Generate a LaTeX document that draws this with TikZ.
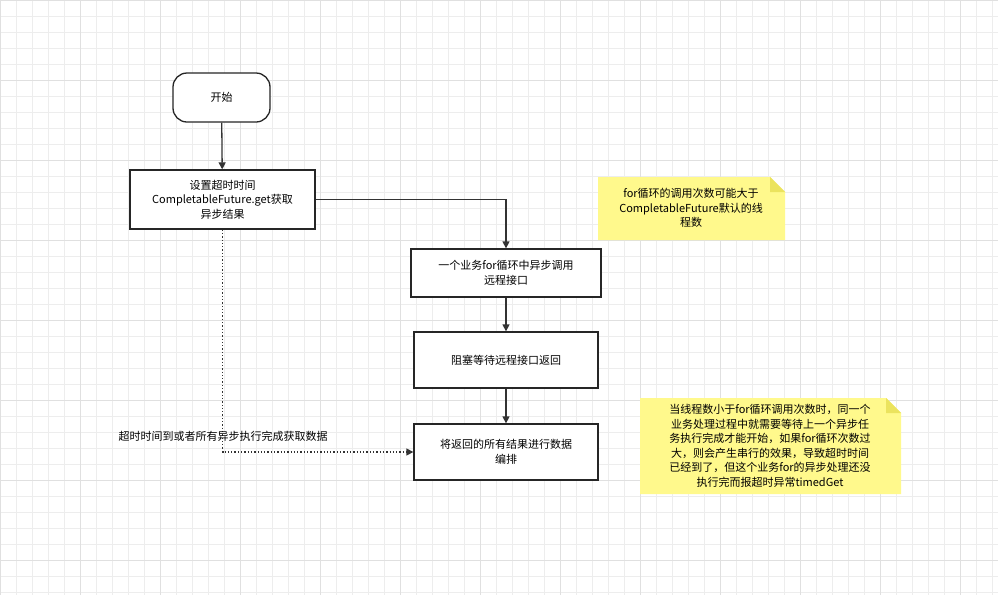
\documentclass[tikz,border=0pt]{standalone}
\usepackage{fontspec}
\setmainfont{Noto Sans CJK SC}
\usetikzlibrary{arrows.meta}
\begin{document}
\begin{tikzpicture}[x=1pt,y=-1pt,
  box/.style={draw=black!85,line width=1.3pt,fill=white,align=center,font=\fontsize{11}{14.5}\selectfont,inner sep=2pt},
  conn/.style={draw=black!80,line width=1.3pt,-{Triangle[length=7pt,width=7pt]}},
  note/.style={fill=yellow!45!white,align=center,font=\fontsize{11}{14.5}\selectfont}]
\useasboundingbox (0,0) rectangle (998,595);
\fill[white] (0,0) rectangle (998,595);
\foreach \i in {0,16,...,992} {\draw[black!7,line width=0.5pt] (\i,0) -- (\i,595);}
\foreach \i in {0,16,...,592} {\draw[black!7,line width=0.5pt] (0,\i) -- (998,\i);}
\foreach \i in {0,80,...,960} {\draw[black!12,line width=0.5pt] (\i,0) -- (\i,595);}
\foreach \i in {0,80,...,560} {\draw[black!12,line width=0.5pt] (0,\i) -- (998,\i);}
\node[box,rounded corners=14pt,minimum width=97pt,minimum height=49pt] (start) at (221.5,97.5) {开始};
\node[box,minimum width=185pt,minimum height=59pt] (b1) at (222.5,199.5) {设置超时时间\\CompletableFuture.get获取\\异步结果};
\node[box,minimum width=190pt,minimum height=48pt] (b2) at (506,273) {一个业务for循环中异步调用\\远程接口};
\node[box,minimum width=184pt,minimum height=56pt] (b3) at (506,360) {阻塞等待远程接口返回};
\node[box,minimum width=184pt,minimum height=56pt] (b4) at (506,452) {将返回的所有结果进行数据\\编排};
\fill[yellow!45!white] (598,177) -- (770,177) -- (785,192) -- (785,240) -- (598,240) -- cycle;
\fill[yellow!70!olive!60] (770,177) -- (785,192) -- (770,192) -- cycle;
\node[note] (n1) at (691,208) {for循环的调用次数可能大于\\CompletableFuture默认的线\\程数};
\fill[yellow!45!white] (640,398) -- (886,398) -- (901,413) -- (901,494) -- (640,494) -- cycle;
\fill[yellow!70!olive!60] (886,398) -- (901,413) -- (886,413) -- cycle;
\node[note] (n2) at (770,446) {当线程数小于for循环调用次数时，同一个\\业务处理过程中就需要等待上一个异步任\\务执行完成才能开始，如果for循环次数过\\大，则会产生串行的效果，导致超时时间\\已经到了，但这个业务for的异步处理还没\\执行完而报超时异常timedGet};
\draw[conn] (start) -- (b1);
\draw[conn] (b1.east) -- (b1.east -| b2.north) -- (b2.north);
\draw[conn] (b2) -- (b3);
\draw[conn] (b3) -- (b4);
\coordinate (c1) at (b1.south |- b4.west);
\draw[conn,dotted] (b1.south) -- (c1) -- (b4.west);
\node[font=\fontsize{11}{14}\selectfont] (lab) at (223,436) {超时时间到或者所有异步执行完成获取数据};
\end{tikzpicture}
\end{document}
